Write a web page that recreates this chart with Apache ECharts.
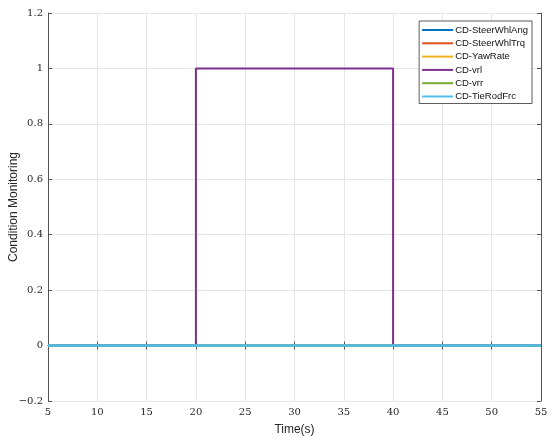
<!DOCTYPE html>
<html><head><meta charset="utf-8">
<script src="https://cdn.jsdelivr.net/npm/echarts@6/dist/echarts.min.js"></script>
<style>html,body{margin:0;padding:0;background:#fff}#c{width:550px;height:440px}</style>
</head><body><div id="c"></div>
<script>
const seriesNames = ['CD-SteerWhlAng','CD-SteerWhlTrq','CD-YawRate','CD-vrl','CD-vrr','CD-TieRodFrc'];
const colors = ['#0072BD','#D95319','#EDB120','#7E2F8E','#77AC30','#4DBEEE'];
const timeSteerWhlAng = [5,55]; const valSteerWhlAng = [0,0];
const timeSteerWhlTrq = [5,55]; const valSteerWhlTrq = [0,0];
const timeYawRate = [5,55]; const valYawRate = [0,0];
const timeVrl = [5,20,20,40,40,55]; const valVrl = [0,0,1,1,0,0];
const timeVrr = [5,55]; const valVrr = [0,0];
const timeTieRodFrc = [5,55]; const valTieRodFrc = [0,0];
const xTicks = [5,10,15,20,25,30,35,40,45,50,55];
const yTicks = [-0.2,0,0.2,0.4,0.6,0.8,1,1.2];

const times = [timeSteerWhlAng,timeSteerWhlTrq,timeYawRate,timeVrl,timeVrr,timeTieRodFrc];
const vals = [valSteerWhlAng,valSteerWhlTrq,valYawRate,valVrl,valVrr,valTieRodFrc];

const tickFont = {fontFamily:'DejaVu Serif', fontSize:10, color:'#262626'};
const axLine = {show:true, lineStyle:{color:'#555', width:1}};
const split = {show:true, lineStyle:{color:'#e6e6e6', width:1}};
const fmtY = v => { const s = (Math.round(v*10)/10).toString(); return s.replace('-', '\u2212'); };

const chart = echarts.init(document.getElementById('c'), null, {renderer:'canvas'});
chart.setOption({
  animation:false,
  color: colors,
  grid:{left:48, top:13, right:9, bottom:39, containLabel:false, outerBoundsMode:'none'},
  legend:{
    orient:'vertical', right:18, top:21, itemWidth:31, itemHeight:2, itemGap:1.3,
    backgroundColor:'#fff', borderColor:'#333', borderWidth:0.8, padding:[3,4,1,3],
    icon:'rect',
    textStyle:{fontFamily:'Liberation Sans', fontSize:9.5, lineHeight:12, color:'#111', padding:[0,0,0,-3]},
    data: seriesNames
  },
  xAxis:[{
    type:'value', min:5, max:55, interval:5,
    name:'Time(s)', nameLocation:'middle', nameGap:23, nameMoveOverlap:false,
    nameTextStyle:{fontFamily:'Liberation Sans', fontSize:12, color:'#262626'},
    axisLine:axLine, axisTick:{show:true, inside:true, length:4, lineStyle:{color:'#555'}},
    axisLabel:Object.assign({margin:6}, tickFont), splitLine:split
  },{
    type:'value', position:'top', min:5, max:55, interval:5,
    axisLine:axLine, axisTick:{show:true, inside:true, length:4, lineStyle:{color:'#555'}},
    axisLabel:{show:false}, splitLine:{show:false}
  }],
  yAxis:[{
    type:'value', min:-0.2, max:1.2, interval:0.2,
    name:'Condition Monitoring', nameLocation:'middle', nameGap:28, nameRotate:90, nameMoveOverlap:false,
    nameTextStyle:{fontFamily:'Liberation Sans', fontSize:12, color:'#262626'},
    axisLine:axLine, axisTick:{show:true, inside:true, length:4, lineStyle:{color:'#555'}},
    axisLabel:Object.assign({margin:5, formatter:fmtY}, tickFont), splitLine:split
  },{
    type:'value', position:'right', min:-0.2, max:1.2, interval:0.2,
    axisLine:axLine, axisTick:{show:true, inside:true, length:4, lineStyle:{color:'#555'}},
    axisLabel:{show:false}, splitLine:{show:false}
  }],
  series: seriesNames.map((n,i)=>({
    name:n, type:'line', showSymbol:false, symbol:'none',
    xAxisIndex:0, yAxisIndex:0, z:2+i,
    lineStyle:{width: i===5 ? 2.6 : 2, color:colors[i]},
    data: times[i].map((t,j)=>[t, vals[i][j]])
  }))
});
</script></body></html>
